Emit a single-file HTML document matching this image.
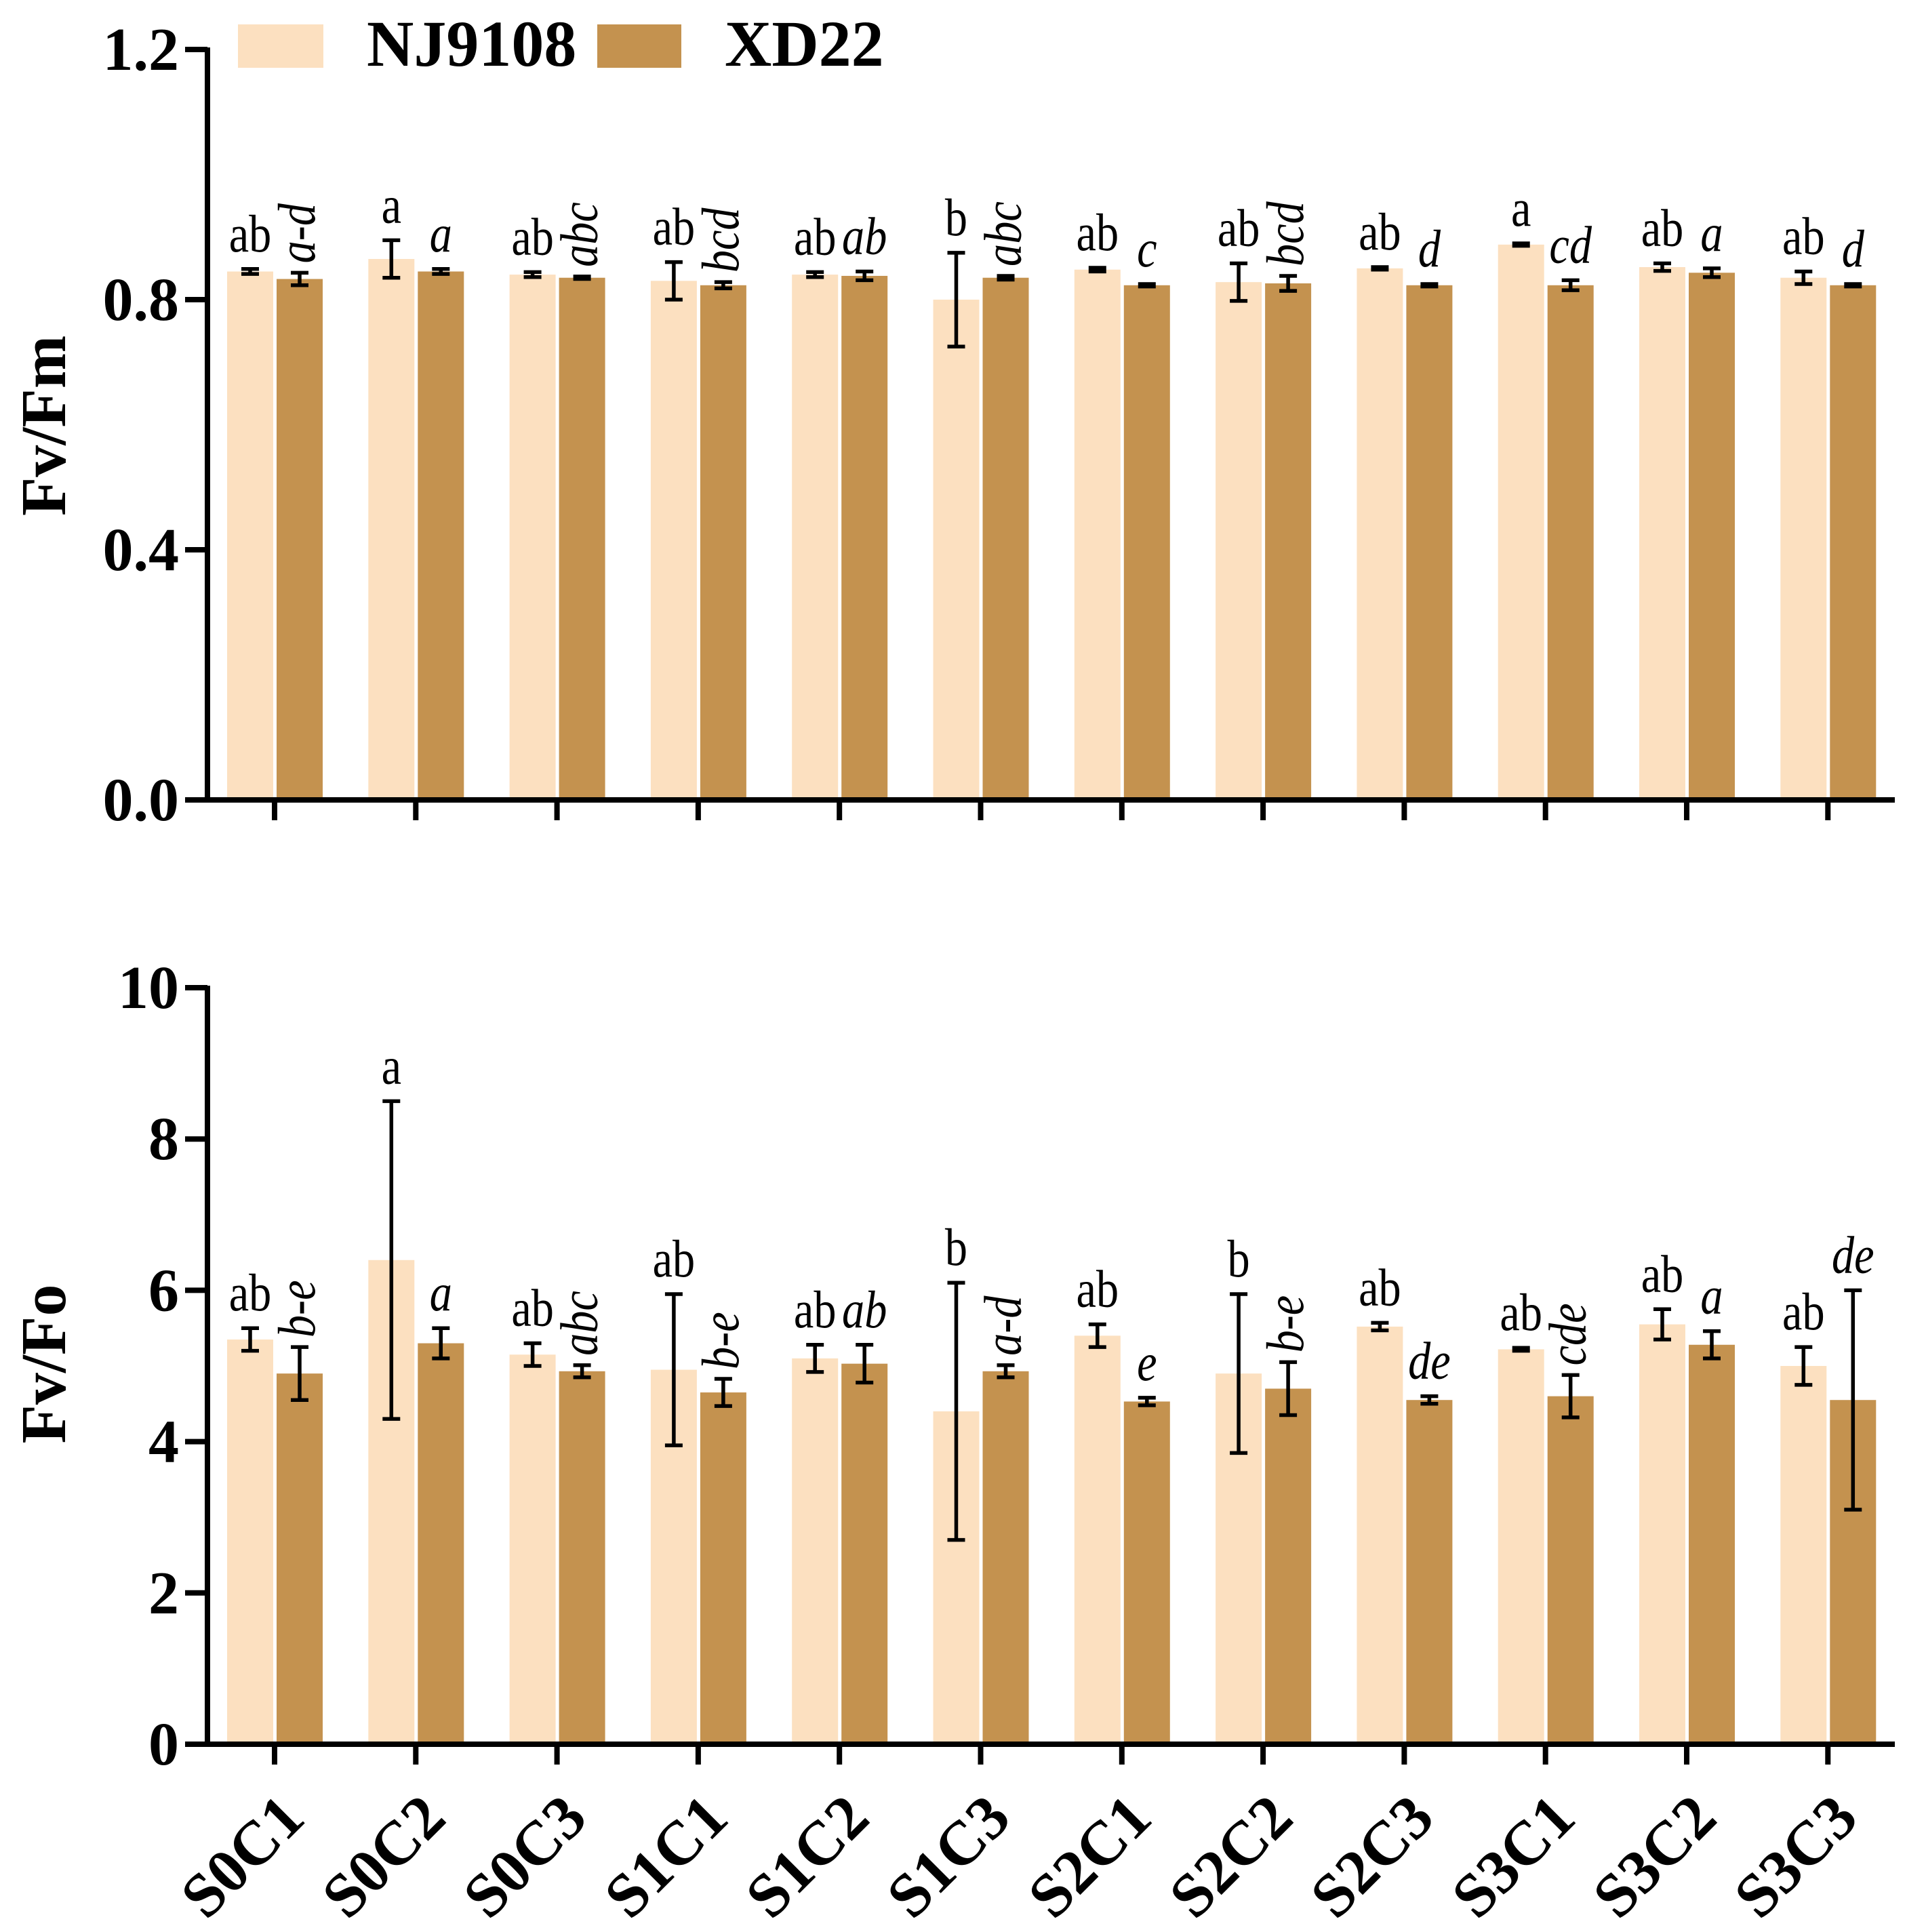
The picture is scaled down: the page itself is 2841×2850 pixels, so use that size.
<!DOCTYPE html>
<html><head><meta charset="utf-8"><style>
html,body{margin:0;padding:0;background:#fff;}
svg{display:block;font-family:"Liberation Serif",serif;}
</style></head><body>
<svg id="chart" width="2841" height="2850" viewBox="0 0 2841 2850" xmlns="http://www.w3.org/2000/svg">
<rect width="2841" height="2850" fill="#fff"/>
<g id="legend">
  <rect x="351" y="36" width="126" height="64" fill="#fce0c0"/>
  <text x="541" y="97" font-size="96" font-weight="bold">NJ9108</text>
  <rect x="881" y="36" width="124" height="64" fill="#c4924f"/>
  <text x="1069" y="97" font-size="96" font-weight="bold">XD22</text>
</g>
<g id="top"></g>
<g id="bot"></g>
</svg>
<script>
const categories=["S0C1","S0C2","S0C3","S1C1","S1C2","S1C3","S2C1","S2C2","S2C3","S3C1","S3C2","S3C3"];
const fmNJ=[0.845,0.865,0.840,0.830,0.840,0.800,0.848,0.828,0.850,0.888,0.852,0.835];
const fmNJerr=[0.004,0.030,0.004,0.030,0.004,0.075,0.003,0.030,0.002,0.002,0.006,0.010];
const fmXD=[0.833,0.845,0.835,0.823,0.838,0.835,0.823,0.826,0.823,0.823,0.843,0.823];
const fmXDerr=[0.010,0.004,0.002,0.005,0.007,0.003,0.002,0.012,0.002,0.008,0.007,0.002];
const fmNJlab=["ab","a","ab","ab","ab","b","ab","ab","ab","a","ab","ab"];
const fmXDlab=["a-d","a","abc","bcd","ab","abc","c","bcd","d","cd","a","d"];
const fmTicks=[0.0,0.4,0.8,1.2];
const foNJ=[5.35,6.40,5.15,4.95,5.10,4.40,5.40,4.90,5.52,5.22,5.55,5.00];
const foNJerr=[0.15,2.10,0.15,1.00,0.18,1.70,0.15,1.05,0.05,0.02,0.20,0.25];
const foXD=[4.90,5.30,4.93,4.65,5.03,4.93,4.53,4.70,4.55,4.60,5.28,4.55];
const foXDerr=[0.35,0.20,0.08,0.18,0.25,0.08,0.05,0.35,0.05,0.28,0.18,1.45];
const foNJlab=["ab","a","ab","ab","ab","b","ab","b","ab","ab","ab","ab"];
const foXDlab=["b-e","a","abc","b-e","ab","a-d","e","b-e","de","cde","a","de"];
const foTicks=[0,2,4,6,8,10];

const NS="http://www.w3.org/2000/svg";
function mk(parent,tag,attrs,text){const e=document.createElementNS(NS,tag);for(const k in attrs)e.setAttribute(k,attrs[k]);if(text!==undefined)e.textContent=text;parent.appendChild(e);return e;}
const AX=306, X0=405, STEP=208.3, BW=68, LF=78;
const xc=i=>X0+i*STEP;
function panel(g,yTop,yBot,max,ticks,fmt,nj,nje,xd,xde,njl,xdl,title,titleY,rot){
  const y=v=>yBot-(yBot-yTop)*v/max;
  for(let i=0;i<categories.length;i++){
    const c=xc(i);
    const b1=mk(g,'rect',{x:c-70,y:y(nj[i]),width:BW,height:yBot-y(nj[i]),fill:'#fce0c0'});
    
    
    const b2=mk(g,'rect',{x:c+3,y:y(xd[i]),width:BW,height:yBot-y(xd[i]),fill:'#c4924f'});
    
    
    [[c-36,nj[i],nje[i],njl[i],false],[c+37,xd[i],xde[i],xdl[i],true]].forEach(([cx,v,e,l,it])=>{
      const eb=mk(g,'path',{d:`M${cx},${y(v+e)}V${y(v-e)}M${cx-13},${y(v+e)}h26M${cx-13},${y(v-e)}h26`,stroke:'#000','stroke-width':5.5,fill:'none'});
      
      
      const top=y(v+e);
      let t;
      if(it && rot.includes(l)){
        t=mk(g,'text',{x:0,y:0,'font-size':LF,'font-style':'italic',transform:`translate(${cx+22} ${top-14}) rotate(-90) scale(0.85 1)`},l);
      } else {
        t=mk(g,'text',{x:0,y:0,'font-size':LF,'text-anchor':'middle','font-style':it?'italic':'normal',transform:`translate(${cx} ${top-26}) scale(0.85 1)`},l);
      }
      
      
    });
    const tk=mk(g,'line',{x1:c,x2:c,y1:yBot,y2:yBot+30,stroke:'#000','stroke-width':8});
    
    
  }
  ticks.forEach(v=>{
    const tl=mk(g,'line',{x1:AX-33,x2:AX,y1:y(v),y2:y(v),stroke:'#000','stroke-width':8});
    
    
    const tt=mk(g,'text',{x:AX-42,y:y(v)+30,'font-size':90,'font-weight':'bold','text-anchor':'end'},fmt(v));
    
    
  });
  const ya=mk(g,'line',{x1:AX,x2:AX,y1:yTop-3,y2:yBot+4,stroke:'#000','stroke-width':8});
  
  
  const xa=mk(g,'line',{x1:AX-4,x2:2795,y1:yBot,y2:yBot,stroke:'#000','stroke-width':8});
  
  
  const yt=mk(g,'text',{x:96,y:titleY,'font-size':94,'font-weight':'bold','text-anchor':'middle',transform:`rotate(-90 96 ${titleY})`},title);
  
  
}
const rotTop=["a-d","abc","bcd"];
const rotBot=["b-e","abc","a-d","cde"];
panel(document.getElementById('top'),73,1180,1.2,fmTicks,v=>v.toFixed(1),fmNJ,fmNJerr,fmXD,fmXDerr,fmNJlab,fmXDlab,"Fv/Fm",628,rotTop);
panel(document.getElementById('bot'),1457,2573,10,foTicks,v=>String(v),foNJ,foNJerr,foXD,foXDerr,foNJlab,foXDlab,"Fv/Fo",2012,rotBot);
const bot=document.getElementById('bot');
categories.forEach((c,i)=>{
  const x=xc(i)+48, yy=2686;
  const t=mk(bot,'text',{x:x,y:yy,'font-size':92,'font-weight':'bold','text-anchor':'end',transform:`rotate(-45 ${x} ${yy})`},c);
  
  
});
</script>
</body></html>
